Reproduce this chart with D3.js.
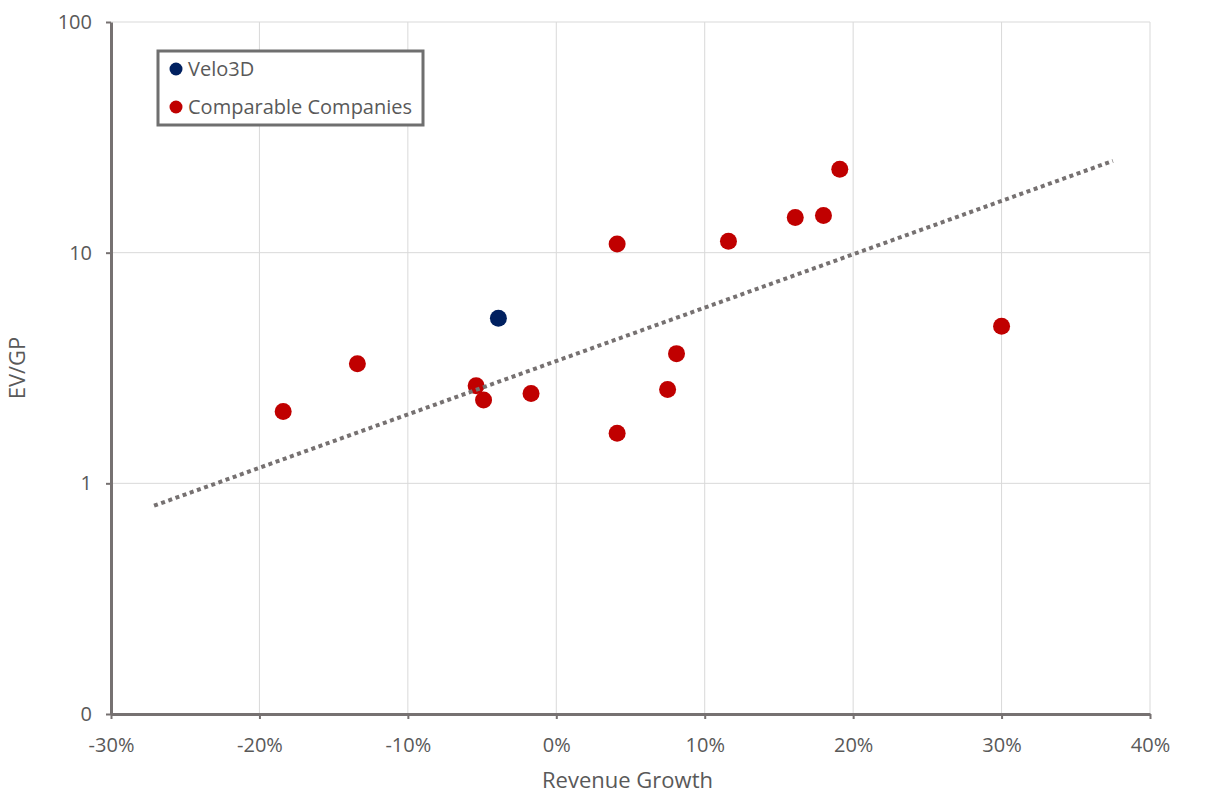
<!DOCTYPE html>
<html>
<head>
<meta charset="utf-8"/>
<script src="https://d3js.org/d3.v7.min.js"></script>
<style>
  body { margin: 0; background: #fff; }
  text { font-family: "Open Sans", "Noto Sans", sans-serif; fill: #595959; }
</style>
</head>
<body>
<script>
// data
var veloX = [-3.9];
var veloY = [5.2];
var compX = [-18.4, -13.4, -5.4, -4.9, -1.7, 4.1, 4.1, 7.5, 8.1, 11.6, 16.1, 18.0, 19.1, 30.0];
var compY = [2.05, 3.3, 2.65, 2.3, 2.45, 10.9, 1.65, 2.55, 3.65, 11.2, 14.2, 14.5, 23.0, 4.8];
// exponential trendline end points
var trendX = [-27.1, 37.5];
var trendY = [0.8, 25.0];
var xTicks = [-30, -20, -10, 0, 10, 20, 30, 40];
var yTicks = [0.1, 1, 10, 100];
var yTickLabels = ["0", "1", "10", "100"];

var width = 1222, height = 799;
var plotL = 111, plotR = 1150, plotT = 22, plotB = 714;
var axisColor = "#767171";

var svg = d3.select("body").append("svg")
  .attr("width", width)
  .attr("height", height);

var x = d3.scaleLinear().domain([-30, 40]).range([plotL, plotR]);
var y = d3.scaleLog().domain([0.1, 100]).range([plotB, plotT]);

// gridlines
svg.append("g").selectAll("line").data(xTicks.slice(1))
  .enter().append("line")
  .attr("x1", d => x(d)).attr("x2", d => x(d))
  .attr("y1", plotT).attr("y2", plotB)
  .attr("stroke", "#d9d9d9").attr("stroke-width", 1);
svg.append("g").selectAll("line").data(yTicks.slice(1))
  .enter().append("line")
  .attr("x1", plotL).attr("x2", plotR)
  .attr("y1", d => y(d)).attr("y2", d => y(d))
  .attr("stroke", "#d9d9d9").attr("stroke-width", 1);

// axes
var xAxis = svg.append("g")
  .attr("transform", "translate(0," + plotB + ")")
  .call(d3.axisBottom(x).tickValues(xTicks).tickSize(5).tickSizeOuter(0)
    .tickFormat(d => d + "%"));
var yAxis = svg.append("g")
  .attr("transform", "translate(" + plotL + ",0)")
  .call(d3.axisLeft(y).tickValues(yTicks).tickSize(5).tickSizeOuter(0)
    .tickFormat((d, i) => yTickLabels[i]));

[xAxis, yAxis].forEach(function(a) {
  a.select(".domain").attr("stroke", axisColor).attr("stroke-width", 3);
  a.selectAll(".tick line").attr("stroke", axisColor).attr("stroke-width", 2);
  a.selectAll(".tick text").style("font-size", "20px").attr("fill", "#595959");
});
xAxis.selectAll(".tick text").attr("dy", "1.5em");
yAxis.selectAll(".tick text").attr("x", -19);

// axis titles
svg.append("text")
  .attr("x", (plotL + plotR) / 2 - 3).attr("y", 788)
  .attr("text-anchor", "middle")
  .style("font-size", "22px")
  .text("Revenue Growth");
svg.append("text")
  .attr("transform", "translate(25," + (plotT + plotB) / 2 + ") rotate(-90)")
  .attr("text-anchor", "middle")
  .style("font-size", "22px")
  .text("EV/GP");

// points
svg.append("g").selectAll("circle").data(compX)
  .enter().append("circle")
  .attr("cx", d => x(d))
  .attr("cy", (d, i) => y(compY[i]))
  .attr("r", 8.5)
  .attr("fill", "#c00000");
svg.append("g").selectAll("circle").data(veloX)
  .enter().append("circle")
  .attr("cx", d => x(d))
  .attr("cy", (d, i) => y(veloY[i]))
  .attr("r", 8.5)
  .attr("fill", "#002060");

// trendline (straight on log axis)
svg.append("line")
  .attr("x1", x(trendX[0])).attr("y1", y(trendY[0]))
  .attr("x2", x(trendX[1])).attr("y2", y(trendY[1]))
  .attr("stroke", axisColor)
  .attr("stroke-width", 4)
  .attr("stroke-dasharray", "4,3.6");

// legend
var legend = svg.append("g");
legend.append("rect")
  .attr("x", 158).attr("y", 51).attr("width", 265).attr("height", 74)
  .attr("fill", "#fff").attr("stroke", "#6f6f6f").attr("stroke-width", 3);
var legItems = [["Velo3D", "#002060"], ["Comparable Companies", "#c00000"]];
legend.selectAll("circle").data(legItems)
  .enter().append("circle")
  .attr("cx", 176).attr("cy", (d, i) => 69 + i * 38)
  .attr("r", 6.5).attr("fill", d => d[1]);
legend.selectAll("text").data(legItems)
  .enter().append("text")
  .attr("x", 188).attr("y", (d, i) => 76 + i * 38)
  .style("font-size", "20px")
  .text(d => d[0]);
</script>
</body>
</html>
